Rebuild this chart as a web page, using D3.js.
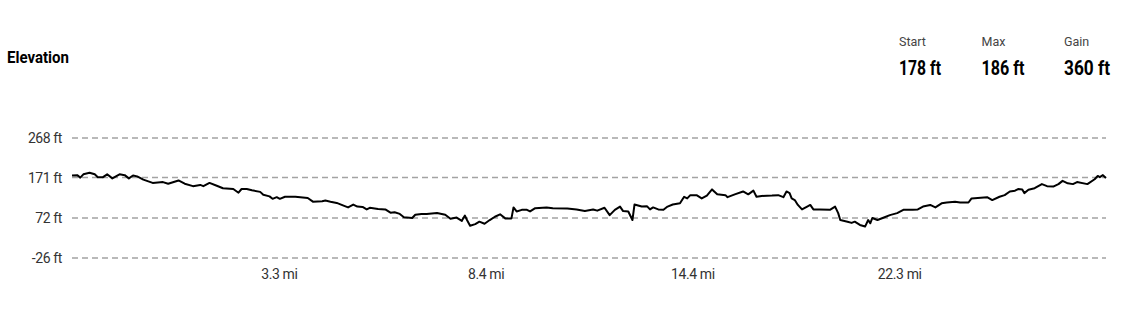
<!DOCTYPE html>
<html>
<head>
<meta charset="utf-8">
<script src="https://cdn.jsdelivr.net/npm/d3@7"></script>
<style>
  body { margin: 0; background: #fff; }
  svg { display: block; }
  .title { font-family: Roboto, "Noto Sans", sans-serif; font-weight: 700; }
  .stat-label { font-family: Roboto, "Noto Sans", sans-serif; fill: #444; }
  .stat-value { font-family: Roboto, "Noto Sans", sans-serif; font-weight: 700; }
  .axis text { font-family: Roboto, "Noto Sans", sans-serif; fill: #333; letter-spacing: -0.4px; }
</style>
</head>
<body>
<svg id="chart"></svg>
<script>
// route progress (% of samples) and elevation in ft
const progress = [
  0.0, 0.5, 0.8, 1.1, 1.7, 2.2, 2.5, 3.0, 3.4, 3.9, 4.6, 5.1, 5.5, 5.9, 6.3, 6.9, 7.8, 8.8, 9.3, 10.3,
  10.9, 11.7, 12.4, 12.7, 13.3, 14.0, 14.6, 15.6, 16.1, 16.4, 16.9, 17.4, 18.2, 18.5, 19.1, 19.4, 19.8, 20.1, 20.6, 21.6,
  22.8, 23.3, 24.2, 24.5, 25.0, 25.6, 26.2, 26.7, 27.2, 27.6, 28.1, 28.5, 28.8, 29.6, 30.3, 30.8, 31.2, 31.7, 32.1, 32.9,
  33.2, 33.8, 34.3, 35.3, 36.1, 36.6, 37.2, 37.7, 38.0, 38.2, 38.5, 39.0, 39.4, 39.9, 40.4, 40.9, 41.4, 41.9, 42.5, 42.7,
  43.0, 43.5, 44.0, 44.3, 44.8, 45.9, 46.5, 47.9, 48.8, 49.6, 50.4, 50.8, 51.5, 52.0, 52.5, 53.0, 53.3, 53.8, 54.2, 54.4,
  55.1, 55.6, 55.9, 56.2, 56.7, 57.2, 57.6, 58.1, 58.8, 59.2, 59.5, 59.8, 60.4, 60.9, 61.4, 61.9, 62.4, 63.2, 63.4, 64.1,
  64.9, 65.4, 65.9, 66.2, 66.7, 67.7, 68.3, 68.8, 69.1, 69.4, 69.6, 69.9, 70.2, 70.6, 71.1, 71.4, 71.7, 72.3, 73.3, 73.8,
  74.1, 74.3, 75.0, 75.4, 75.7, 76.2, 76.7, 77.0, 77.2, 77.4, 77.9, 78.4, 79.1, 79.8, 80.4, 81.3, 81.8, 82.3, 83.0, 83.5,
  84.1, 84.6, 85.4, 85.9, 86.7, 87.0, 88.5, 89.0, 89.7, 90.2, 90.7, 91.2, 91.5, 91.9, 92.1, 92.5, 93.1, 93.8, 94.3, 94.9,
  95.4, 95.8, 96.3, 96.8, 97.2, 98.2, 98.9, 99.2, 99.4, 99.7, 100.0
];
const elevation = [
  176, 177, 171, 179, 183, 179, 172, 172, 179, 169, 179, 177, 169, 176, 174, 166, 158, 160, 156, 164,
  156, 150, 153, 150, 158, 151, 145, 143, 134, 143, 143, 140, 136, 129, 125, 119, 123, 119, 124, 124,
  121, 112, 113, 115, 112, 109, 103, 98, 105, 100, 99, 93, 97, 94, 93, 85, 86, 82, 74, 72,
  80, 82, 82, 84, 80, 70, 73, 65, 78, 67, 53, 57, 63, 58, 67, 75, 81, 71, 71, 98,
  88, 92, 92, 88, 96, 98, 96, 95, 93, 89, 93, 90, 97, 79, 92, 100, 89, 88, 67, 105,
  100, 101, 93, 98, 93, 92, 100, 105, 108, 124, 120, 128, 128, 120, 127, 142, 130, 128, 123, 130,
  137, 130, 139, 124, 126, 127, 128, 123, 137, 133, 120, 116, 104, 93, 100, 104, 93, 93, 92, 100,
  84, 67, 63, 60, 63, 55, 51, 67, 59, 72, 67, 72, 79, 84, 92, 92, 93, 100, 104, 98,
  108, 110, 112, 110, 110, 120, 123, 116, 124, 128, 137, 139, 143, 142, 133, 141, 145, 155, 150, 149,
  155, 163, 157, 155, 160, 155, 167, 175, 172, 177, 170
];
const data = progress.map((p, i) => ({ p, e: elevation[i] }));

const yTicks = [-26, 72, 171, 268];
const xTicks = [20, 40, 60, 80];
const xTickLabels = ["3.3 mi", "8.4 mi", "14.4 mi", "22.3 mi"];

const statNames = ["Start", "Max", "Gain"];
const statValues = ["178 ft", "186 ft", "360 ft"];
const statWidths = [42, 43, 46];

const W = 1128, H = 316;
const margin = { top: 138, right: 22, bottom: 58, left: 72 };
const width = W - margin.left - margin.right;
const height = H - margin.top - margin.bottom;

const svg = d3.select('#chart').attr('width', W).attr('height', H);

svg.append('text')
  .attr('class', 'title')
  .attr('x', 7).attr('y', 63)
  .attr('font-size', 16)
  .attr('textLength', 62)
  .attr('lengthAdjust', 'spacingAndGlyphs')
  .text('Elevation');

const stats = svg.append('g');
statNames.forEach((name, i) => {
  const gx = 899 + i * 82.5;
  stats.append('text').attr('class', 'stat-label')
    .attr('x', gx).attr('y', 46).attr('font-size', 12.5).text(name);
  stats.append('text').attr('class', 'stat-value')
    .attr('x', gx).attr('y', 75).attr('font-size', 21)
    .attr('textLength', statWidths[i])
    .attr('lengthAdjust', 'spacingAndGlyphs')
    .text(statValues[i]);
});

const x = d3.scaleLinear().domain([0, 100]).range([0, width]);
const y = d3.scaleLinear().domain([-26, 268]).range([height, 0]);

const g = svg.append('g').attr('transform', `translate(${margin.left},${margin.top})`);

// dashed grid
g.append('g')
  .selectAll('line')
  .data(yTicks)
  .enter().append('line')
  .attr('x1', 0).attr('x2', width)
  .attr('y1', d => y(d)).attr('y2', d => y(d))
  .attr('stroke', '#a3a3a3')
  .attr('stroke-width', 1.5)
  .attr('stroke-dasharray', '6,4');

g.append('g')
  .attr('class', 'axis')
  .call(d3.axisLeft(y).tickValues(yTicks).tickSize(0).tickPadding(10).tickFormat(d => d + ' ft'))
  .call(a => a.select('.domain').remove())
  .selectAll('text').attr('font-size', 14);

g.append('g')
  .attr('class', 'axis')
  .attr('transform', `translate(0,${height})`)
  .call(d3.axisBottom(x).tickValues(xTicks).tickSize(0).tickPadding(11).tickFormat((d, i) => xTickLabels[i]))
  .call(a => a.select('.domain').remove())
  .selectAll('text').attr('font-size', 14);

const line = d3.line().x(d => x(d.p)).y(d => y(d.e));

g.append('path')
  .datum(data)
  .attr('fill', 'none')
  .attr('stroke', '#000')
  .attr('stroke-width', 2)
  .attr('stroke-linejoin', 'round')
  .attr('d', line);
</script>
</body>
</html>
